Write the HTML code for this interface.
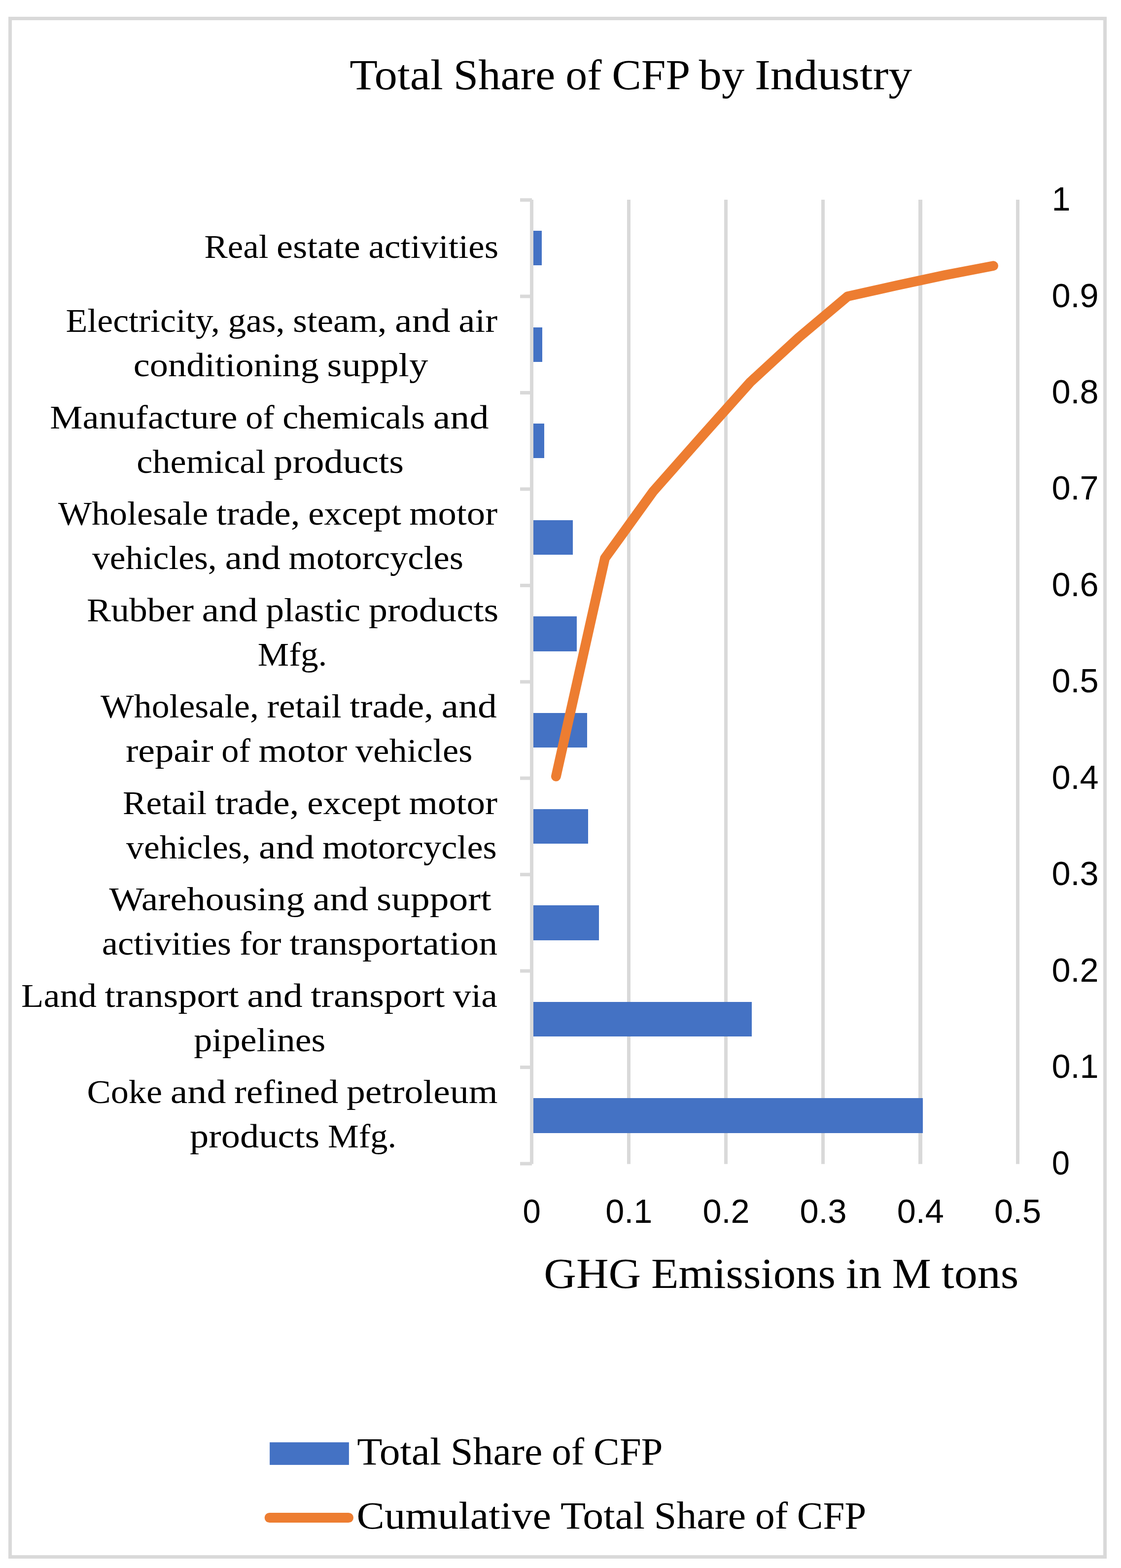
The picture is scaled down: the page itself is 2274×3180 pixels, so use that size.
<!DOCTYPE html>
<html lang="en">
<head>
<meta charset="utf-8">
<title>Total Share of CFP by Industry</title>
<style>
html,body{margin:0;padding:0;background:#fff;}
body{width:2274px;height:3180px;}
svg{display:block;}
</style>
</head>
<body>
<svg width="2274" height="3180" viewBox="0 0 2274 3180" role="img" aria-label="Total Share of CFP by Industry">
<rect x="0" y="0" width="2274" height="3180" fill="#ffffff"/>
<rect x="20.50" y="37.50" width="2221.00" height="3120.00" fill="none" stroke="#D9D9D9" stroke-width="7"/>
<g class="gridlines">
<rect x="1272" y="405" width="7" height="1955.7" fill="#D9D9D9"/>
<rect x="1469" y="405" width="7" height="1955.7" fill="#D9D9D9"/>
<rect x="1666" y="405" width="7" height="1955.7" fill="#D9D9D9"/>
<rect x="1863" y="405" width="8" height="1955.7" fill="#D9D9D9"/>
<rect x="2061" y="405" width="7" height="1955.7" fill="#D9D9D9"/>
</g>
<g class="bars">
<rect x="1078" y="468" width="21" height="70" fill="#4472C4"/>
<rect x="1078" y="664" width="22" height="70" fill="#4472C4"/>
<rect x="1078" y="859" width="26" height="70" fill="#4472C4"/>
<rect x="1078" y="1055" width="84" height="70" fill="#4472C4"/>
<rect x="1078" y="1250" width="92" height="71" fill="#4472C4"/>
<rect x="1078" y="1446" width="113" height="70" fill="#4472C4"/>
<rect x="1078" y="1641" width="115" height="70" fill="#4472C4"/>
<rect x="1078" y="1836" width="137" height="71" fill="#4472C4"/>
<rect x="1078" y="2032" width="447" height="70" fill="#4472C4"/>
<rect x="1078" y="2227" width="794" height="71" fill="#4472C4"/>
</g>
<g class="axis">
<rect x="1075" y="405" width="7" height="1955.7" fill="#D9D9D9"/>
<rect x="1055" y="402.10" width="24" height="7.0" fill="#D9D9D9"/>
<rect x="1055" y="597.54" width="24" height="7.0" fill="#D9D9D9"/>
<rect x="1055" y="792.98" width="24" height="7.0" fill="#D9D9D9"/>
<rect x="1055" y="988.42" width="24" height="7.0" fill="#D9D9D9"/>
<rect x="1055" y="1183.86" width="24" height="7.0" fill="#D9D9D9"/>
<rect x="1055" y="1379.30" width="24" height="7.0" fill="#D9D9D9"/>
<rect x="1055" y="1574.74" width="24" height="7.0" fill="#D9D9D9"/>
<rect x="1055" y="1770.18" width="24" height="7.0" fill="#D9D9D9"/>
<rect x="1055" y="1965.62" width="24" height="7.0" fill="#D9D9D9"/>
<rect x="1055" y="2161.06" width="24" height="7.0" fill="#D9D9D9"/>
<rect x="1055" y="2356.50" width="24" height="7.0" fill="#D9D9D9"/>
</g>
<polyline class="cumulative" points="1127.9,1574.6 1227.0,1132.3 1324.9,996.7 1423.7,885.0 1522.3,774.7 1620.8,684.0 1719.4,601.2 1818.0,579.1 1916.6,558.0 2015.0,539.1" fill="none" stroke="#ED7D31" stroke-width="19.8" stroke-linecap="round" stroke-linejoin="round"/>
<rect x="547.1" y="2925.1" width="160.8" height="45.8" fill="#4472C4"/>
<line x1="546.8" y1="3078" x2="706.9" y2="3078" stroke="#ED7D31" stroke-width="20.2" stroke-linecap="round"/>
<text class="title" y="181.00" font-family='"Liberation Serif", serif' font-size="86" fill="#000" xml:space="preserve"><tspan x="709.32" textLength="189.57" lengthAdjust="spacingAndGlyphs">Total</tspan> <tspan x="919.72" textLength="206.65" lengthAdjust="spacingAndGlyphs">Share</tspan> <tspan x="1147.19" textLength="73.21" lengthAdjust="spacingAndGlyphs">of</tspan> <tspan x="1241.22" textLength="155.67" lengthAdjust="spacingAndGlyphs">CFP</tspan> <tspan x="1417.72" textLength="92.37" lengthAdjust="spacingAndGlyphs">by</tspan> <tspan x="1530.91" textLength="319.34" lengthAdjust="spacingAndGlyphs">Industry</tspan></text>
<text class="axis-title" y="2612.00" font-family='"Liberation Serif", serif' font-size="86" fill="#000" xml:space="preserve"><tspan x="1103.24" textLength="196.96" lengthAdjust="spacingAndGlyphs">GHG</tspan> <tspan x="1321.08" textLength="373.88" lengthAdjust="spacingAndGlyphs">Emissions</tspan> <tspan x="1715.84" textLength="72.92" lengthAdjust="spacingAndGlyphs">in</tspan> <tspan x="1809.65" textLength="79.02" lengthAdjust="spacingAndGlyphs">M</tspan> <tspan x="1909.55" textLength="156.87" lengthAdjust="spacingAndGlyphs">tons</tspan></text>
<text class="legend" y="2970.00" font-family='"Liberation Serif", serif' font-size="77.3" fill="#000" xml:space="preserve"><tspan x="724.32" textLength="170.98" lengthAdjust="spacingAndGlyphs">Total</tspan> <tspan x="914.07" textLength="186.38" lengthAdjust="spacingAndGlyphs">Share</tspan> <tspan x="1119.23" textLength="66.03" lengthAdjust="spacingAndGlyphs">of</tspan> <tspan x="1204.04" textLength="140.40" lengthAdjust="spacingAndGlyphs">CFP</tspan></text>
<text class="legend" y="3100.00" font-family='"Liberation Serif", serif' font-size="77.3" fill="#000" xml:space="preserve"><tspan x="723.62" textLength="394.53" lengthAdjust="spacingAndGlyphs">Cumulative</tspan> <tspan x="1136.94" textLength="171.04" lengthAdjust="spacingAndGlyphs">Total</tspan> <tspan x="1326.77" textLength="186.45" lengthAdjust="spacingAndGlyphs">Share</tspan> <tspan x="1532.00" textLength="66.06" lengthAdjust="spacingAndGlyphs">of</tspan> <tspan x="1616.84" textLength="140.45" lengthAdjust="spacingAndGlyphs">CFP</tspan></text>
<text class="cat" y="523.00" font-family='"Liberation Serif", serif' font-size="68.2" fill="#000" xml:space="preserve"><tspan x="414.56" textLength="129.79" lengthAdjust="spacingAndGlyphs">Real</tspan> <tspan x="561.09" textLength="169.70" lengthAdjust="spacingAndGlyphs">estate</tspan> <tspan x="747.54" textLength="263.67" lengthAdjust="spacingAndGlyphs">activities</tspan></text>
<text class="cat" y="673.00" font-family='"Liberation Serif", serif' font-size="68.2" fill="#000" xml:space="preserve"><tspan x="133.42" textLength="312.66" lengthAdjust="spacingAndGlyphs">Electricity,</tspan> <tspan x="462.70" textLength="114.99" lengthAdjust="spacingAndGlyphs">gas,</tspan> <tspan x="594.30" textLength="190.23" lengthAdjust="spacingAndGlyphs">steam,</tspan> <tspan x="801.14" textLength="112.53" lengthAdjust="spacingAndGlyphs">and</tspan> <tspan x="930.28" textLength="78.83" lengthAdjust="spacingAndGlyphs">air</tspan></text>
<text class="cat" y="763.00" font-family='"Liberation Serif", serif' font-size="68.2" fill="#000" xml:space="preserve"><tspan x="270.85" textLength="376.05" lengthAdjust="spacingAndGlyphs">conditioning</tspan> <tspan x="663.54" textLength="204.80" lengthAdjust="spacingAndGlyphs">supply</tspan></text>
<text class="cat" y="868.50" font-family='"Liberation Serif", serif' font-size="68.2" fill="#000" xml:space="preserve"><tspan x="101.35" textLength="380.16" lengthAdjust="spacingAndGlyphs">Manufacture</tspan> <tspan x="498.16" textLength="58.51" lengthAdjust="spacingAndGlyphs">of</tspan> <tspan x="573.31" textLength="288.77" lengthAdjust="spacingAndGlyphs">chemicals</tspan> <tspan x="878.72" textLength="112.70" lengthAdjust="spacingAndGlyphs">and</tspan></text>
<text class="cat" y="958.50" font-family='"Liberation Serif", serif' font-size="68.2" fill="#000" xml:space="preserve"><tspan x="277.22" textLength="261.41" lengthAdjust="spacingAndGlyphs">chemical</tspan> <tspan x="555.33" textLength="263.82" lengthAdjust="spacingAndGlyphs">products</tspan></text>
<text class="cat" y="1064.00" font-family='"Liberation Serif", serif' font-size="68.2" fill="#000" xml:space="preserve"><tspan x="117.90" textLength="304.39" lengthAdjust="spacingAndGlyphs">Wholesale</tspan> <tspan x="438.86" textLength="169.76" lengthAdjust="spacingAndGlyphs">trade,</tspan> <tspan x="625.20" textLength="188.59" lengthAdjust="spacingAndGlyphs">except</tspan> <tspan x="830.36" textLength="178.71" lengthAdjust="spacingAndGlyphs">motor</tspan></text>
<text class="cat" y="1154.00" font-family='"Liberation Serif", serif' font-size="68.2" fill="#000" xml:space="preserve"><tspan x="187.00" textLength="252.80" lengthAdjust="spacingAndGlyphs">vehicles,</tspan> <tspan x="456.41" textLength="112.48" lengthAdjust="spacingAndGlyphs">and</tspan> <tspan x="585.50" textLength="354.39" lengthAdjust="spacingAndGlyphs">motorcycles</tspan></text>
<text class="cat" y="1259.50" font-family='"Liberation Serif", serif' font-size="68.2" fill="#000" xml:space="preserve"><tspan x="176.07" textLength="216.87" lengthAdjust="spacingAndGlyphs">Rubber</tspan> <tspan x="409.62" textLength="112.94" lengthAdjust="spacingAndGlyphs">and</tspan> <tspan x="539.24" textLength="191.92" lengthAdjust="spacingAndGlyphs">plastic</tspan> <tspan x="747.84" textLength="263.50" lengthAdjust="spacingAndGlyphs">products</tspan></text>
<text class="cat" y="1349.50" font-family='"Liberation Serif", serif' font-size="68.2" fill="#000" xml:space="preserve"><tspan x="522.84" textLength="140.54" lengthAdjust="spacingAndGlyphs">Mfg.</tspan></text>
<text class="cat" y="1455.00" font-family='"Liberation Serif", serif' font-size="68.2" fill="#000" xml:space="preserve"><tspan x="204.00" textLength="320.92" lengthAdjust="spacingAndGlyphs">Wholesale,</tspan> <tspan x="541.49" textLength="151.25" lengthAdjust="spacingAndGlyphs">retail</tspan> <tspan x="709.30" textLength="169.74" lengthAdjust="spacingAndGlyphs">trade,</tspan> <tspan x="895.61" textLength="112.21" lengthAdjust="spacingAndGlyphs">and</tspan></text>
<text class="cat" y="1545.00" font-family='"Liberation Serif", serif' font-size="68.2" fill="#000" xml:space="preserve"><tspan x="254.98" textLength="177.56" lengthAdjust="spacingAndGlyphs">repair</tspan> <tspan x="449.23" textLength="58.65" lengthAdjust="spacingAndGlyphs">of</tspan> <tspan x="524.56" textLength="179.90" lengthAdjust="spacingAndGlyphs">motor</tspan> <tspan x="721.14" textLength="237.22" lengthAdjust="spacingAndGlyphs">vehicles</tspan></text>
<text class="cat" y="1650.50" font-family='"Liberation Serif", serif' font-size="68.2" fill="#000" xml:space="preserve"><tspan x="249.04" textLength="170.24" lengthAdjust="spacingAndGlyphs">Retail</tspan> <tspan x="435.94" textLength="170.64" lengthAdjust="spacingAndGlyphs">trade,</tspan> <tspan x="623.23" textLength="189.56" lengthAdjust="spacingAndGlyphs">except</tspan> <tspan x="829.44" textLength="179.63" lengthAdjust="spacingAndGlyphs">motor</tspan></text>
<text class="cat" y="1740.50" font-family='"Liberation Serif", serif' font-size="68.2" fill="#000" xml:space="preserve"><tspan x="256.10" textLength="252.40" lengthAdjust="spacingAndGlyphs">vehicles,</tspan> <tspan x="525.08" textLength="112.30" lengthAdjust="spacingAndGlyphs">and</tspan> <tspan x="653.97" textLength="353.82" lengthAdjust="spacingAndGlyphs">motorcycles</tspan></text>
<text class="cat" y="1846.00" font-family='"Liberation Serif", serif' font-size="68.2" fill="#000" xml:space="preserve"><tspan x="221.60" textLength="396.44" lengthAdjust="spacingAndGlyphs">Warehousing</tspan> <tspan x="634.68" textLength="112.65" lengthAdjust="spacingAndGlyphs">and</tspan> <tspan x="763.96" textLength="232.62" lengthAdjust="spacingAndGlyphs">support</tspan></text>
<text class="cat" y="1936.00" font-family='"Liberation Serif", serif' font-size="68.2" fill="#000" xml:space="preserve"><tspan x="206.87" textLength="262.15" lengthAdjust="spacingAndGlyphs">activities</tspan> <tspan x="485.67" textLength="84.83" lengthAdjust="spacingAndGlyphs">for</tspan> <tspan x="587.15" textLength="422.16" lengthAdjust="spacingAndGlyphs">transportation</tspan></text>
<text class="cat" y="2041.50" font-family='"Liberation Serif", serif' font-size="68.2" fill="#000" xml:space="preserve"><tspan x="42.95" textLength="153.04" lengthAdjust="spacingAndGlyphs">Land</tspan> <tspan x="212.60" textLength="272.01" lengthAdjust="spacingAndGlyphs">transport</tspan> <tspan x="501.21" textLength="112.46" lengthAdjust="spacingAndGlyphs">and</tspan> <tspan x="630.27" textLength="272.01" lengthAdjust="spacingAndGlyphs">transport</tspan> <tspan x="918.89" textLength="90.07" lengthAdjust="spacingAndGlyphs">via</tspan></text>
<text class="cat" y="2131.50" font-family='"Liberation Serif", serif' font-size="68.2" fill="#000" xml:space="preserve"><tspan x="393.21" textLength="267.15" lengthAdjust="spacingAndGlyphs">pipelines</tspan></text>
<text class="cat" y="2237.00" font-family='"Liberation Serif", serif' font-size="68.2" fill="#000" xml:space="preserve"><tspan x="176.51" textLength="152.55" lengthAdjust="spacingAndGlyphs">Coke</tspan> <tspan x="345.71" textLength="112.78" lengthAdjust="spacingAndGlyphs">and</tspan> <tspan x="475.14" textLength="211.17" lengthAdjust="spacingAndGlyphs">refined</tspan> <tspan x="702.96" textLength="306.63" lengthAdjust="spacingAndGlyphs">petroleum</tspan></text>
<text class="cat" y="2327.00" font-family='"Liberation Serif", serif' font-size="68.2" fill="#000" xml:space="preserve"><tspan x="384.98" textLength="263.36" lengthAdjust="spacingAndGlyphs">products</tspan> <tspan x="665.01" textLength="139.02" lengthAdjust="spacingAndGlyphs">Mfg.</tspan></text>
<text class="num" y="2480.00" font-family='"Liberation Sans", sans-serif' font-size="69" fill="#000" xml:space="preserve"><tspan x="1060.43" textLength="36.26" lengthAdjust="spacingAndGlyphs">0</tspan></text>
<text class="num" y="2480.00" font-family='"Liberation Sans", sans-serif' font-size="69" fill="#000" xml:space="preserve"><tspan x="1228.23" textLength="95.06" lengthAdjust="spacingAndGlyphs">0.1</tspan></text>
<text class="num" y="2480.00" font-family='"Liberation Sans", sans-serif' font-size="69" fill="#000" xml:space="preserve"><tspan x="1425.41" textLength="95.06" lengthAdjust="spacingAndGlyphs">0.2</tspan></text>
<text class="num" y="2480.00" font-family='"Liberation Sans", sans-serif' font-size="69" fill="#000" xml:space="preserve"><tspan x="1622.59" textLength="95.06" lengthAdjust="spacingAndGlyphs">0.3</tspan></text>
<text class="num" y="2480.00" font-family='"Liberation Sans", sans-serif' font-size="69" fill="#000" xml:space="preserve"><tspan x="1819.77" textLength="95.06" lengthAdjust="spacingAndGlyphs">0.4</tspan></text>
<text class="num" y="2480.00" font-family='"Liberation Sans", sans-serif' font-size="69" fill="#000" xml:space="preserve"><tspan x="2016.95" textLength="95.06" lengthAdjust="spacingAndGlyphs">0.5</tspan></text>
<text class="num" y="427.10" font-family='"Liberation Sans", sans-serif' font-size="69" fill="#000" xml:space="preserve"><tspan x="2133.60" textLength="38.03" lengthAdjust="spacingAndGlyphs">1</tspan></text>
<text class="num" y="622.54" font-family='"Liberation Sans", sans-serif' font-size="69" fill="#000" xml:space="preserve"><tspan x="2133.60" textLength="95.06" lengthAdjust="spacingAndGlyphs">0.9</tspan></text>
<text class="num" y="817.98" font-family='"Liberation Sans", sans-serif' font-size="69" fill="#000" xml:space="preserve"><tspan x="2133.60" textLength="95.06" lengthAdjust="spacingAndGlyphs">0.8</tspan></text>
<text class="num" y="1013.42" font-family='"Liberation Sans", sans-serif' font-size="69" fill="#000" xml:space="preserve"><tspan x="2133.60" textLength="95.06" lengthAdjust="spacingAndGlyphs">0.7</tspan></text>
<text class="num" y="1208.86" font-family='"Liberation Sans", sans-serif' font-size="69" fill="#000" xml:space="preserve"><tspan x="2133.60" textLength="95.06" lengthAdjust="spacingAndGlyphs">0.6</tspan></text>
<text class="num" y="1404.30" font-family='"Liberation Sans", sans-serif' font-size="69" fill="#000" xml:space="preserve"><tspan x="2133.60" textLength="95.06" lengthAdjust="spacingAndGlyphs">0.5</tspan></text>
<text class="num" y="1599.74" font-family='"Liberation Sans", sans-serif' font-size="69" fill="#000" xml:space="preserve"><tspan x="2133.60" textLength="95.06" lengthAdjust="spacingAndGlyphs">0.4</tspan></text>
<text class="num" y="1795.18" font-family='"Liberation Sans", sans-serif' font-size="69" fill="#000" xml:space="preserve"><tspan x="2133.60" textLength="95.06" lengthAdjust="spacingAndGlyphs">0.3</tspan></text>
<text class="num" y="1990.62" font-family='"Liberation Sans", sans-serif' font-size="69" fill="#000" xml:space="preserve"><tspan x="2133.60" textLength="95.06" lengthAdjust="spacingAndGlyphs">0.2</tspan></text>
<text class="num" y="2186.06" font-family='"Liberation Sans", sans-serif' font-size="69" fill="#000" xml:space="preserve"><tspan x="2133.60" textLength="95.06" lengthAdjust="spacingAndGlyphs">0.1</tspan></text>
<text class="num" y="2381.50" font-family='"Liberation Sans", sans-serif' font-size="69" fill="#000" xml:space="preserve"><tspan x="2133.73" textLength="36.26" lengthAdjust="spacingAndGlyphs">0</tspan></text>
</svg>
</body>
</html>
